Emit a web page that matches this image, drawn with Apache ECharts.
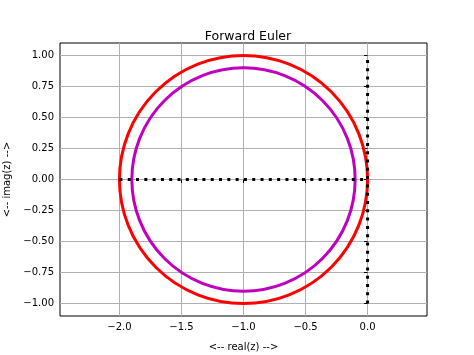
<!DOCTYPE html>
<html>
<head>
<meta charset="utf-8">
<script src="https://cdn.jsdelivr.net/npm/echarts@6/dist/echarts.min.js"></script>
<style>
    html, body { margin: 0; padding: 0; background: #fff; }
    #chart { width: 474px; height: 355px; }
</style>
</head>
<body>
<div id="chart"></div>
<script>
    // stability region circles: [centre re, centre im, radius]
    const circles = [[-1, 0, 1.0], [-1, 0, 0.9]];
    const circleColors = ['#ff0000', '#bf00bf'];
    // dotted axes
    const realAxisLine = [[-2, 0], [0, 0]];
    const imagAxisLine = [[0, -1], [0, 1]];
    const xTicks = [-2.0, -1.5, -1.0, -0.5, 0.0];
    const yTicks = [-1.00, -0.75, -0.50, -0.25, 0.00, 0.25, 0.50, 0.75, 1.00];

    const fmt = (v, d) => (v < 0 ? '\u2212' : '') + Math.abs(v).toFixed(d);
    const font = 'DejaVu Sans';

    const chart = echarts.init(document.getElementById('chart'));

    const circleSeries = circles.map((c, i) => ({
        type: 'custom',
        coordinateSystem: 'cartesian2d',
        data: [c],
        silent: true,
        renderItem: function (params, api) {
            const p = api.coord([api.value(0), api.value(1)]);
            const r = api.size([api.value(2), 0])[0];
            return {
                type: 'circle',
                shape: {cx: p[0], cy: p[1], r: r},
                style: {fill: 'none', stroke: circleColors[i], lineWidth: 3}
            };
        }
    }));

    const dotted = (data) => ({
        type: 'line',
        data: data,
        symbol: 'none',
        silent: true,
        animation: false,
        lineStyle: {color: '#000', width: 3, type: [3, 5.3], cap: 'butt'}
    });

    chart.setOption({
        animation: false,
        title: {
            text: 'Forward Euler',
            left: 243,
            top: 25,
            textAlign: 'center',
            textStyle: {fontFamily: font, fontSize: 12.5, fontWeight: 'normal', color: '#000'}
        },
        grid: {
            left: 60, right: 47, top: 43, bottom: 39,
            outerBoundsMode: 'none',
            containLabel: false,
            show: true, borderColor: '#000', borderWidth: 1
        },
        xAxis: {
            type: 'value',
            min: -2.479, max: 0.479,
            name: '<-- real(z) -->',
            nameLocation: 'middle',
            nameGap: 26,
            nameTextStyle: {fontFamily: font, fontSize: 10, color: '#000'},
            axisLine: {show: false},
            axisTick: {show: true, length: 3.5, customValues: xTicks, lineStyle: {color: '#000'}},
            axisLabel: {
                customValues: xTicks, margin: 6,
                fontFamily: font, fontSize: 10, color: '#000',
                formatter: (v) => fmt(v, 1)
            },
            splitLine: {show: true, lineStyle: {color: '#b0b0b0', width: 1}}
        },
        yAxis: {
            type: 'value',
            min: -1.1, max: 1.1,
            name: '<-- imag(z) -->',
            nameLocation: 'middle',
            nameGap: 41,
            nameTextStyle: {fontFamily: font, fontSize: 10, color: '#000'},
            axisLine: {show: false},
            axisTick: {show: true, length: 3.5, customValues: yTicks, lineStyle: {color: '#000'}},
            axisLabel: {
                customValues: yTicks, margin: 6,
                fontFamily: font, fontSize: 10, color: '#000',
                formatter: (v) => fmt(v, 2)
            },
            splitLine: {show: true, lineStyle: {color: '#b0b0b0', width: 1}}
        },
        series: [...circleSeries, dotted(realAxisLine), dotted(imagAxisLine)]
    });
</script>
</body>
</html>
